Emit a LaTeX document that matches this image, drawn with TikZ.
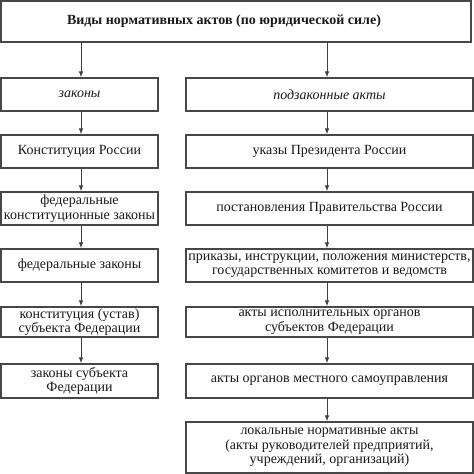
\documentclass[tikz,border=0pt]{standalone}
\usepackage{fontspec}
\setmainfont{Liberation Serif}
\usetikzlibrary{arrows.meta}
\begin{document}
\begin{tikzpicture}[x=1pt,y=-1pt,
  box/.style={draw=black!72, line width=1.1pt, fill=white, inner sep=0pt, align=center,
    font=\fontsize{14}{14.5}\selectfont, text=black!90},
  lbox/.style={box, minimum width=157pt},
  rbox/.style={box, minimum width=287pt},
  arr/.style={draw=black!75, line width=1pt, -{Latex[length=6pt,width=4.5pt]}}]
\useasboundingbox[fill=white] (0,0) rectangle (474,474);
\node[box, minimum width=470pt, minimum height=41pt, font=\fontsize{14}{14.5}\selectfont\bfseries] (top) at (236,21.5) {Виды нормативных актов (по юридической силе)\hspace*{24pt}};
% left column
\node[lbox, minimum height=33pt, font=\fontsize{14}{14.5}\selectfont\itshape] (l1) at (79.5,94.5) {законы};
\node[lbox, minimum height=33pt] (l2) at (79.5,151.5) {Конституция России};
\node[lbox, minimum height=33pt] (l3) at (79.5,208.5) {федеральные\\конституционные законы};
\node[lbox, minimum height=33pt] (l4) at (79.5,265.5) {федеральные законы};
\node[lbox, minimum height=30pt] (l5) at (79.5,322) {конституция (устав)\\субъекта Федерации};
\node[lbox, minimum height=34pt] (l6) at (79.5,381) {законы субъекта\\Федерации};
% right column
\node[rbox, minimum height=33pt, font=\fontsize{14}{14.5}\selectfont\itshape] (r1) at (329.5,94.5) {подзаконные акты};
\node[rbox, minimum height=33pt] (r2) at (329.5,151.5) {указы Президента России};
\node[rbox, minimum height=33pt] (r3) at (329.5,208.5) {постановления Правительства России};
\node[rbox, minimum height=33pt] (r4) at (329.5,265.5) {приказы, инструкции, положения министерств,\\государственных комитетов и ведомств};
\node[rbox, minimum height=30pt] (r5) at (329.5,322) {акты исполнительных органов\\субъектов Федерации};
\node[rbox, minimum height=34pt] (r6) at (329.5,381) {акты органов местного самоуправления};
\node[rbox, minimum height=51pt] (r7) at (329.5,447.5) {локальные нормативные акты\\(акты руководителей предприятий,\\учреждений, организаций)};
% arrows
\coordinate (la) at (81,0);
\coordinate (ra) at (327,0);
\foreach \a/\b in {top/l1,l1/l2,l2/l3,l3/l4,l4/l5,l5/l6}{
  \draw[arr] (\a.south -| la) -- (\b.north -| la);
}
\foreach \a/\b in {top/r1,r1/r2,r2/r3,r3/r4,r4/r5,r5/r6,r6/r7}{
  \draw[arr] (\a.south -| ra) -- (\b.north -| ra);
}
\end{tikzpicture}
\end{document}
